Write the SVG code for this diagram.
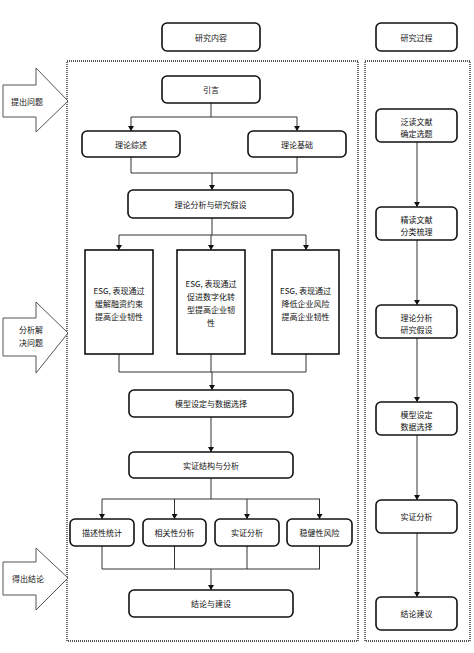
<svg xmlns="http://www.w3.org/2000/svg" width="474" height="653" viewBox="0 0 474 653">
<style>
text{font-family:"Noto Sans CJK SC","Liberation Sans",sans-serif;font-size:8px;fill:#111;text-anchor:middle;dominant-baseline:central}
.rb{fill:#fff;stroke:#111;stroke-width:1.6}
.tb{fill:#fff;stroke:#111;stroke-width:1.6}
.c{fill:none;stroke:#333;stroke-width:1}
.ca{fill:none;stroke:#333;stroke-width:1;marker-end:url(#ah)}
.dot{fill:none;stroke:#222;stroke-width:1.3;stroke-dasharray:1 1}
.ar{fill:#fff;stroke:#555;stroke-width:1}
</style>
<defs>
<marker id="ah" markerUnits="userSpaceOnUse" markerWidth="6" markerHeight="6" refX="5" refY="3" orient="auto">
<path d="M0,0 L5,3 L0,6 Z" fill="#111"/>
</marker>
</defs>
<rect width="474" height="653" fill="#fff"/>
<g id="containers">
<rect class="dot" x="67" y="61" width="291" height="580"/>
<rect class="dot" x="365" y="61" width="105" height="580"/>
</g>
<g id="header-content"><rect class="rb" x="162" y="23" width="98" height="28" rx="5"/><text x="211" y="37">研究内容</text></g>
<g id="header-process"><rect class="rb" x="376" y="23" width="81" height="28" rx="5"/><text x="416.5" y="37">研究过程</text></g>
<g id="arrow-1"><path class="ar" d="M3,85 H36 V68 L68,101 L36,132 V117 H3 Z"/><text x="27" y="101">提出问题</text></g>
<g id="arrow-2"><path class="ar" d="M3,318 H36 V302 L68,333 L36,373 V356 H3 Z"/><text x="31" y="329">分析解</text><text x="31" y="342">决问题</text></g>
<g id="arrow-3"><path class="ar" d="M3,562 H36 V548 L68,578 L36,610 V595 H3 Z"/><text x="28" y="578">得出结论</text></g>
<g id="connectors">
<path class="c" d="M211,103 V117 M131,117 H297 M131,157 V173 M297,157 V173 M131,173 H297 M212,218 V235 M119,235 H306 M119,354 V372 M211,354 V372 M306,354 V372 M119,372 H306 M211,478 V499 M102,499 H320 M102,546 V569 M174.5,546 V569 M247,546 V569 M319.5,546 V569 M102,569 H320"/>
<path class="ca" d="M131,117 V131"/>
<path class="ca" d="M297,117 V131"/>
<path class="ca" d="M212,173 V190"/>
<path class="ca" d="M119,235 V250"/>
<path class="ca" d="M211,235 V250"/>
<path class="ca" d="M306,235 V250"/>
<path class="ca" d="M212,372 V390"/>
<path class="ca" d="M211,417 V452"/>
<path class="ca" d="M102,499 V519"/>
<path class="ca" d="M174.5,499 V519"/>
<path class="ca" d="M247,499 V519"/>
<path class="ca" d="M319.5,499 V519"/>
<path class="ca" d="M211,569 V590"/>
<path class="ca" d="M417,142 V207"/>
<path class="ca" d="M417,240 V305"/>
<path class="ca" d="M417,338 V402"/>
<path class="ca" d="M417,435 V500"/>
<path class="ca" d="M417,533 V597"/>
</g>
<g id="intro"><rect class="rb" x="162" y="76" width="98" height="27" rx="5"/><text x="211" y="89.5">引言</text></g>
<g id="review"><rect class="rb" x="82" y="131" width="98" height="26" rx="5"/><text x="131" y="144">理论综述</text></g>
<g id="basis"><rect class="rb" x="248" y="131" width="98" height="26" rx="5"/><text x="297" y="144">理论基础</text></g>
<g id="hypothesis"><rect class="rb" x="128" y="190" width="165" height="28" rx="5"/><text x="210.5" y="204">理论分析与研究假设</text></g>
<g id="mech-1"><rect class="tb" x="85" y="250" width="68" height="104"/><text x="119" y="290">ESG, 表现通过</text><text x="119" y="303">缓解融资约束</text><text x="119" y="316">提高企业韧性</text></g>
<g id="mech-2"><rect class="tb" x="177" y="250" width="68" height="104"/><text x="211" y="283">ESG, 表现通过</text><text x="211" y="296">促进数字化转</text><text x="211" y="309">型提高企业韧</text><text x="211" y="322">性</text></g>
<g id="mech-3"><rect class="tb" x="272" y="250" width="67" height="104"/><text x="305.5" y="290">ESG, 表现通过</text><text x="305.5" y="303">降低企业风险</text><text x="305.5" y="316">提高企业韧性</text></g>
<g id="model"><rect class="rb" x="129" y="390" width="164" height="27" rx="5"/><text x="211" y="403.5">模型设定与数据选择</text></g>
<g id="empirical"><rect class="rb" x="129" y="452" width="164" height="26" rx="5"/><text x="211" y="465">实证结构与分析</text></g>
<g id="desc"><rect class="rb" x="70" y="519" width="64" height="27" rx="5"/><text x="102" y="532.5">描述性统计</text></g>
<g id="corr"><rect class="rb" x="143" y="519" width="63" height="27" rx="5"/><text x="174.5" y="532.5">相关性分析</text></g>
<g id="emp"><rect class="rb" x="215" y="519" width="64" height="27" rx="5"/><text x="247" y="532.5">实证分析</text></g>
<g id="robust"><rect class="rb" x="287" y="519" width="65" height="27" rx="5"/><text x="319.5" y="532.5">稳健性风险</text></g>
<g id="conclusion"><rect class="rb" x="129" y="590" width="164" height="27" rx="5"/><text x="211" y="603.5">结论与建设</text></g>
<g id="p1"><rect class="rb" x="376" y="109" width="81" height="33" rx="5"/><text x="416.5" y="121">泛读文献</text><text x="416.5" y="133">确定选题</text></g>
<g id="p2"><rect class="rb" x="376" y="207" width="81" height="33" rx="5"/><text x="416.5" y="219">精读文献</text><text x="416.5" y="231">分类梳理</text></g>
<g id="p3"><rect class="rb" x="376" y="305" width="81" height="33" rx="5"/><text x="416.5" y="317">理论分析</text><text x="416.5" y="329">研究假设</text></g>
<g id="p4"><rect class="rb" x="376" y="402" width="81" height="33" rx="5"/><text x="416.5" y="414">模型设定</text><text x="416.5" y="426">数据选择</text></g>
<g id="p5"><rect class="rb" x="376" y="500" width="81" height="33" rx="5"/><text x="416.5" y="516.5">实证分析</text></g>
<g id="p6"><rect class="rb" x="376" y="597" width="81" height="33" rx="5"/><text x="416.5" y="613.5">结论建议</text></g>
</svg>
